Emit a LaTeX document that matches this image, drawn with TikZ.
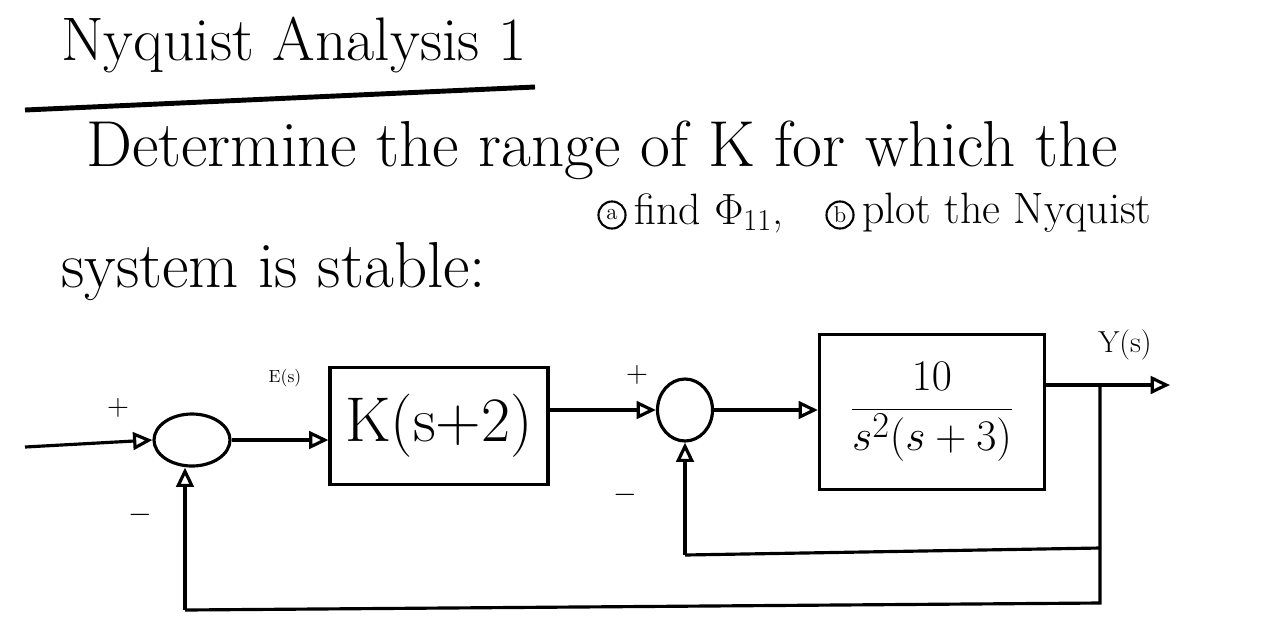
\documentclass[tikz,border=0pt]{standalone}
\usetikzlibrary{arrows.meta,shapes.geometric}
\begin{document}
\begin{tikzpicture}[x=0.02cm,y=-0.02cm,
  wire/.style={line width=1.8pt},
  arr/.style={wire,-{Triangle[open,length=11pt,width=10pt]}},
  sumj/.style={draw,ellipse,line width=1.8pt},
  blk/.style={draw,line width=1.8pt},
  circ/.style={draw,circle,line width=1.2pt,inner sep=1pt,minimum size=22pt*0.7,font=\fontsize{13}{15}\selectfont},
  txt/.style={font=\fontsize{37}{42}\selectfont}]
\useasboundingbox (0,0) rectangle (1280,633);
\node[anchor=west,font=\fontsize{35}{40}\selectfont] (title) at (55,45) {Nyquist Analysis 1};
\coordinate (ul1) at (25,110); \coordinate (ul2) at (535,87);
\draw[wire,line width=2.8pt] (ul1) -- (ul2);
\node[txt,anchor=west] (l1) at (80,150) {Determine the range of K for which the};
\node[txt,anchor=west] (l2) at (55,272) {system is stable:};
\node[circ] (ca) at (612,215) {a};
\node[anchor=west,font=\fontsize{25}{29}\selectfont] (l3a) at (628,213) {find $\Phi_{11}$,};
\node[circ] (cb) at (840,215) {b};
\node[anchor=west,font=\fontsize{25}{29}\selectfont] (l3b) at (856,213) {plot the Nyquist};
% sums
\node[sumj,minimum width=76*0.02cm,minimum height=52*0.02cm] (s1) at (192,440) {};
\node[sumj,minimum width=55*0.02cm,minimum height=62*0.02cm] (s2) at (685,410) {};
\node[blk,minimum width=218*0.02cm,minimum height=117*0.02cm,font=\fontsize{36}{40}\selectfont] (b1) at (439,426) {K(s+2)};
\node[blk,minimum width=225*0.02cm,minimum height=155*0.02cm] (b2) at (932,412)
  {\fontsize{30}{34}\selectfont$\displaystyle\frac{10}{s^2(s+3)}$};
\node[font=\LARGE] (p1) at (118,408) {+};
\node[font=\LARGE] (m1) at (140,515) {$-$};
\node[font=\LARGE] (p2) at (637,375) {+};
\node[font=\LARGE] (m2) at (625,495) {$-$};
\node[font=\normalsize] (es) at (285,378) {E(s)};
\node[font=\LARGE] (ys) at (1125,345) {Y(s)};
\coordinate (in) at (25,447);
\coordinate (out) at (1170,385);
\coordinate (t1) at (1100,385);
\coordinate (c1) at (1100,603);
\coordinate (c2) at (185,610);
\coordinate (t2) at (1100,548);
\coordinate (c3) at (685,555);
\draw[arr] (in) -- (s1.west);
\draw[arr] (s1.east) -- (b1.west |- s1.east);
\draw[arr] (b1.east |- s2.west) -- (s2.west);
\draw[arr] (s2.east) -- (b2.west |- s2.east);
\draw[arr] (b2.east |- out) -- (out);
\draw[wire] (t1) -- (c1) -- (c2);
\draw[arr] (c2) -- (c2 |- s1.south);
\draw[wire] (t2) -- (c3);
\draw[arr] (c3) -- (s2.south);
\end{tikzpicture}
\end{document}
